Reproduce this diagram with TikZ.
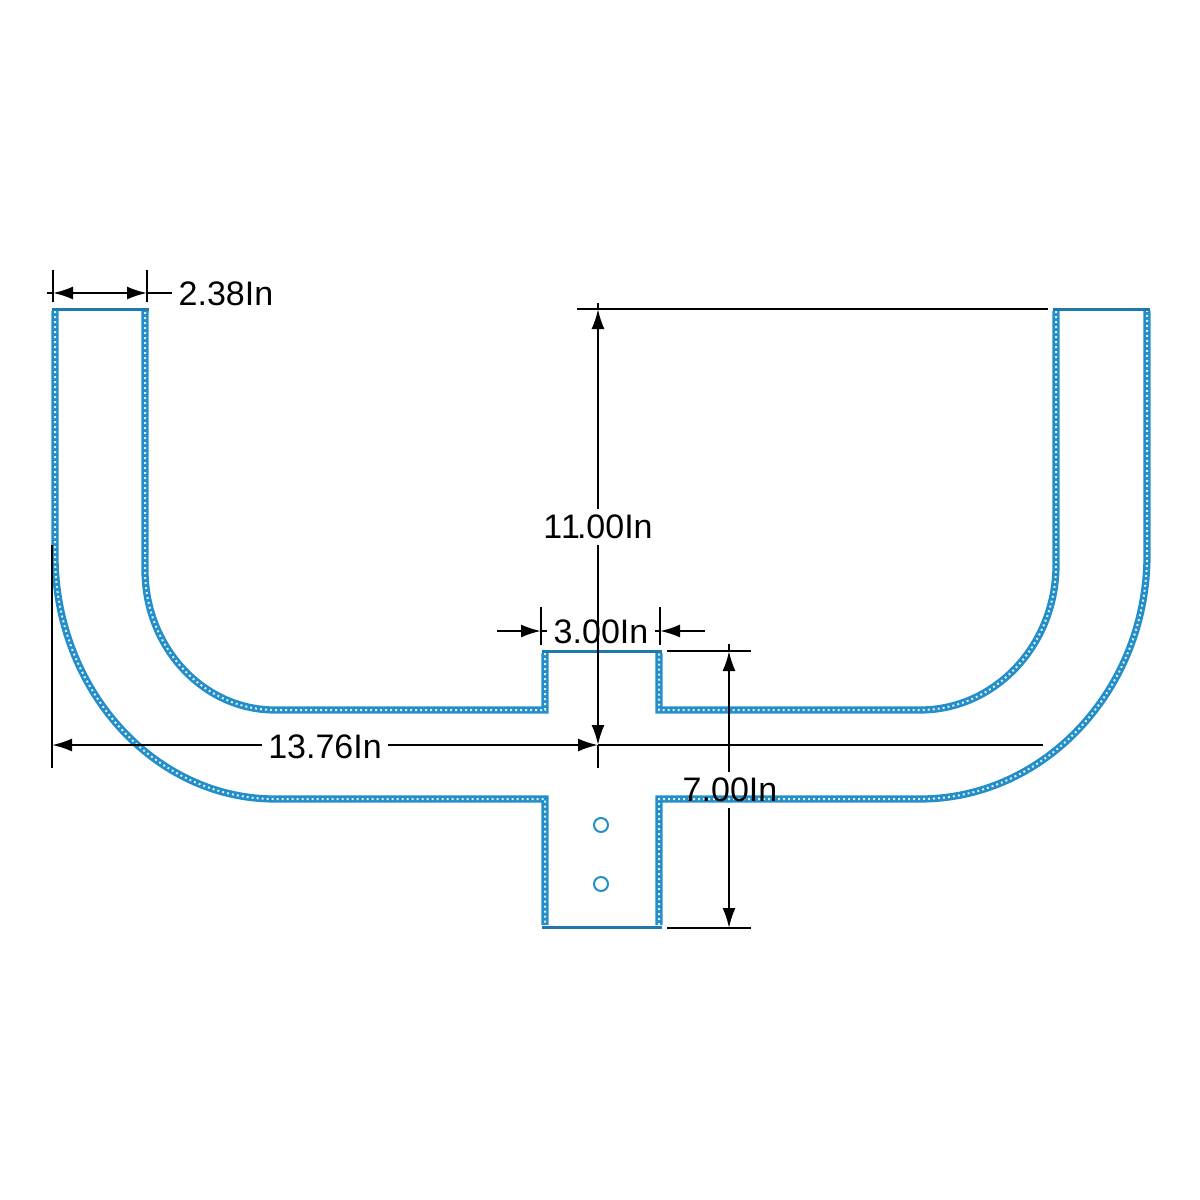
\documentclass[tikz,border=0pt]{standalone}
\usepackage{fontspec}
\setmainfont{Liberation Sans}
\usetikzlibrary{arrows.meta}
\definecolor{tube}{RGB}{36,142,200}
\tikzset{
  tubeline/.style={draw=tube,line width=3.6pt,line join=miter},
  tubedots/.style={draw=white!85!tube,line width=1pt,dash pattern=on 1pt off 1.5pt},
  capline/.style={draw=tube!85!black,line width=1.5pt},
  hole/.style={circle,draw=tube,line width=1pt,minimum size=7pt,inner sep=0pt},
  dimline/.style={draw=black,line width=1.1pt},
  dimarrow/.style={dimline,-{Latex[length=10pt,width=6.5pt]}},
  dimlabel/.style={font=\fontsize{17}{17}\selectfont,text=black,inner sep=3pt}
}
\begin{document}
\begin{tikzpicture}[x=0.5pt,y=-0.5pt]
\useasboundingbox (0,0) rectangle (1200,1200);
\fill[white] (0,0) rectangle (1200,1200);
% tube walls
\foreach \sty in {tubeline,tubedots}{
  \path[\sty] (55,311) -- (55,555) .. controls (55,689) and (154,799) .. (275,799)
     -- (545,799) -- (545,925);
  \path[\sty] (659,925) -- (659,799) -- (920,799)
     .. controls (1045,799) and (1147,689) .. (1147,555) -- (1147,311);
  \path[\sty] (1056,311) -- (1056,565) .. controls (1056,645) and (995,710) .. (920,710)
     -- (659,710) -- (659,653);
  \path[\sty] (545,653) -- (545,710) -- (275,710)
     .. controls (203,710) and (145,647) .. (145,570) -- (145,311);
}
% thin end caps
\draw[capline] (52,309) -- (149,309);
\draw[capline] (1053,309) -- (1150,309);
\draw[capline] (542,651) -- (662,651);
\draw[capline] (542,927) -- (662,927);
% holes
\node[hole] (h1) at (601,825) {};
\node[hole] (h2) at (601,884) {};
% reference points
\coordinate (a1) at (53,270);  \coordinate (a2) at (53,302);
\coordinate (b1) at (147,270); \coordinate (b2) at (147,302);
\coordinate (aL) at (53,293);  \coordinate (bR) at (147,293);
\coordinate (aS) at (47,293);  \coordinate (abM) at (100,293);
\coordinate (c1) at (541,607); \coordinate (c2) at (541,645);
\coordinate (d1) at (660,607); \coordinate (d2) at (660,645);
\coordinate (cT) at (541,631); \coordinate (dT) at (660,631);
\coordinate (cS) at (497,631); \coordinate (dS) at (705,631);
\coordinate (cE) at (547,631); \coordinate (dE) at (655,631);
\coordinate (eL) at (577,309); \coordinate (eR) at (1048,309);
\coordinate (eT) at (598,309); \coordinate (eTop) at (598,303);
\coordinate (eB) at (598,745); \coordinate (eEnd) at (598,768);
\coordinate (fT) at (52,545);  \coordinate (fB) at (52,768);
\coordinate (fL) at (52,745);  \coordinate (fR) at (1043,745);
\coordinate (g1) at (667,651); \coordinate (g2) at (751,651);
\coordinate (k1) at (667,928); \coordinate (k2) at (751,928);
\coordinate (gT) at (729,651); \coordinate (kB) at (729,928);
\coordinate (gTop) at (729,644);
% labels
\node[dimlabel] (l238) at (226,294) {2.38In};
\node[dimlabel] (l1100) at (598,527) {1\kern-0.6pt 1\kern-1.5pt .00In};
\node[dimlabel] (l300) at (601,632) {3.00In};
\node[dimlabel] (l1376) at (325,747) {13.76In};
\node[dimlabel] (l700) at (730,790) {7.00In};
% 2.38
\draw[dimline] (a1) -- (a2);
\draw[dimline] (b1) -- (b2);
\draw[dimline] (aS) -- (aL);
\draw[dimarrow] (abM) -- (aL);
\draw[dimarrow] (abM) -- (bR);
\draw[dimline] (bR) -- (l238.west |- bR);
% 3.00
\draw[dimline] (c1) -- (c2);
\draw[dimline] (d1) -- (d2);
\draw[dimarrow] (cS) -- (cT);
\draw[dimarrow] (dS) -- (dT);
\draw[dimline] (cT) -- (cE);
\draw[dimline] (dT) -- (dE);
% 11.00
\draw[dimline] (eL) -- (eR);
\draw[dimarrow] (l1100.north -| eT) -- (eT);
\draw[dimline] (eT) -- (eTop);
\draw[dimarrow] (l1100.south -| eB) -- (eB);
\draw[dimline] (eB) -- (eEnd);
% 13.76
\draw[dimline] (fT) -- (fB);
\draw[dimarrow] (l1376.west |- fL) -- (fL);
\draw[dimarrow] (l1376.east |- eB) -- (eB);
\draw[dimline] (eB) -- (fR);
% 7.00
\draw[dimline] (g1) -- (g2);
\draw[dimline] (k1) -- (k2);
\draw[dimarrow] (l700.north -| gT) -- (gT);
\draw[dimline] (gT) -- (gTop);
\draw[dimarrow] (l700.south -| kB) -- (kB);
\end{tikzpicture}
\end{document}
